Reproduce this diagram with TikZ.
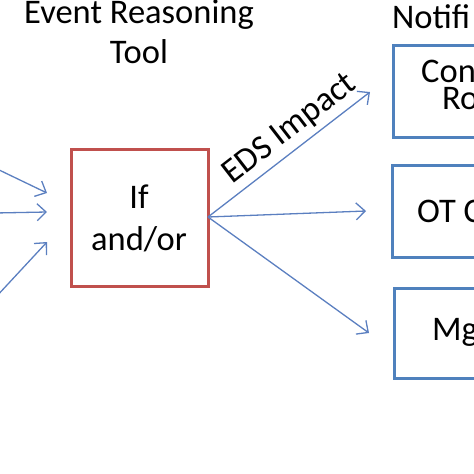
\documentclass[tikz,border=0pt]{standalone}
\usepackage{fontspec}
\setmainfont{Carlito}
\usetikzlibrary{arrows.meta}
\definecolor{boxred}{HTML}{C0504D}
\definecolor{boxblue}{HTML}{4F81BD}
\definecolor{arrblue}{HTML}{5B7FC0}
\begin{document}
\begin{tikzpicture}[x=1pt,y=-1pt,
  txt/.style={font=\fontsize{34.5}{38}\selectfont, inner sep=0pt},
  conn/.style={draw=arrblue, line width=1.3pt, -{Straight Barb[length=9pt,width=17pt]}},
  redbox/.style={draw=boxred, line width=3pt},
  bluebox/.style={draw=boxblue, line width=3pt}]
\useasboundingbox (0,0) rectangle (474,474);
\begin{scope}
\clip (0,0) rectangle (474,474);
% titles
\node[txt, anchor=base] (t1) at (139,23) {Event Reasoning};
\node[txt, anchor=base] (t2) at (139,63) {Tool};
\node[txt, anchor=base west] (t3) at (392,28) {Notifi};
% red box
\draw[redbox] (71,149) rectangle (208,286);
\node[txt, anchor=base] (if) at (139,208) {If};
\node[txt, anchor=base] (andor) at (139,250) {and/or};
% blue boxes
\draw[bluebox] (393,45) rectangle (480,137);
\draw[bluebox] (392,165) rectangle (480,257);
\draw[bluebox] (394,288) rectangle (480,378);
\node[txt, anchor=base west] (c1) at (421,82) {Con};
\node[txt, anchor=base west] (c2) at (442,109) {Roo};
\node[txt, anchor=base west] (c3) at (417,222) {OT C};
\node[txt, anchor=base west] (c4) at (432,340) {Mg};
% input arrows
\coordinate (i1) at (-5,168);
\coordinate (i2) at (-5,213);
\coordinate (i3) at (-5,298);
\coordinate (e1) at (47,193);
\coordinate (e2) at (47,212);
\coordinate (e3) at (47,242);
\draw[conn] (i1) -- (e1);
\draw[conn] (i2) -- (e2);
\draw[conn] (i3) -- (e3);
% output arrows
\coordinate (o) at (208,217);
\coordinate (f1) at (370,92);
\coordinate (f2) at (366,211);
\coordinate (f3) at (369,333);
\draw[conn] (o) -- (f1);
\draw[conn] (o) -- (f2);
\draw[conn] (o) -- (f3);
\node[txt, rotate=37.7, anchor=base] (eds) at (295,136) {EDS Impact};
\end{scope}
\end{tikzpicture}
\end{document}
